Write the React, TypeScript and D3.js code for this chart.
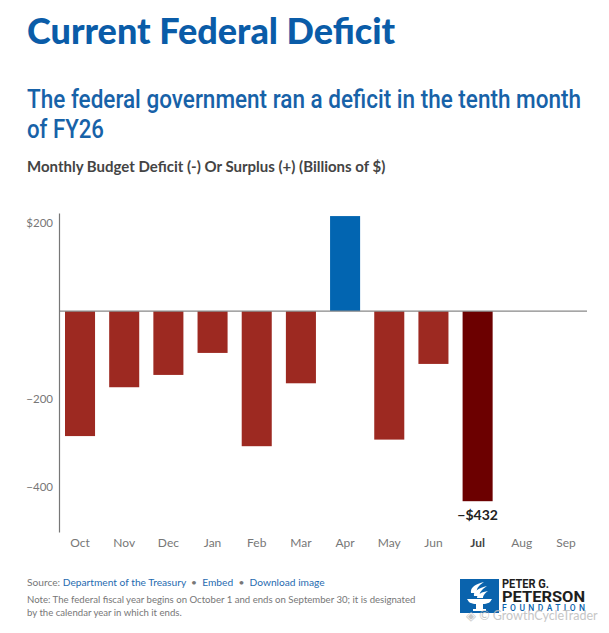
import { useEffect, useRef } from 'react';
import * as d3 from 'd3';

const months = ['Oct', 'Nov', 'Dec', 'Jan', 'Feb', 'Mar', 'Apr', 'May', 'Jun', 'Jul', 'Aug', 'Sep'];
const deficits: (number | null)[] = [-284, -173, -145, -95, -307, -164, 216, -292, -120, -432, null, null];
const yTicks = [200, -200, -400];
const latestMonth = 'Jul';

const WIDTH = 609;
const HEIGHT = 633;

export default function App() {
  const svgRef = useRef<SVGSVGElement>(null);

  useEffect(() => {
    if (!svgRef.current) return;
    const svg = d3.select(svgRef.current);
    svg.selectAll('*').remove();

    const font = 'Lato, "Open Sans", sans-serif';

    // Headings
    svg.append('text')
      .attr('x', 27).attr('y', 44)
      .style('font-family', font).style('font-weight', '900').style('font-size', '36px')
      .style('fill', '#0a5ca8')
      .text('Current Federal Deficit');

    const sub = svg.append('g')
      .style('font-family', 'Roboto, sans-serif').style('font-weight', '500').style('font-size', '26px')
      .style('fill', '#1762a8');
    sub.append('text').attr('x', 27).attr('y', 108)
      .attr('textLength', 554).attr('lengthAdjust', 'spacingAndGlyphs')
      .text('The federal government ran a deficit in the tenth month');
    sub.append('text').attr('x', 27).attr('y', 138)
      .attr('textLength', 77).attr('lengthAdjust', 'spacingAndGlyphs')
      .text('of FY26');

    svg.append('text')
      .attr('x', 27).attr('y', 172)
      .style('font-family', font).style('font-weight', '700').style('font-size', '15px')
      .style('fill', '#444')
      .text('Monthly Budget Deficit (-) Or Surplus (+) (Billions of $)');

    // Scales
    const x = d3.scaleBand<string>()
      .domain(months)
      .range([59, 587])
      .paddingInner(0.32)
      .paddingOuter(0.136);

    const y = d3.scaleLinear()
      .domain([-502, 223])
      .range([532, 213]);

    // Bars
    const data = months.map((m, i) => ({ month: m, value: deficits[i] }))
      .filter(d => d.value !== null) as { month: string; value: number }[];

    svg.append('g')
      .selectAll('rect')
      .data(data)
      .enter().append('rect')
      .attr('x', d => x(d.month) || 0)
      .attr('width', x.bandwidth())
      .attr('y', d => y(Math.max(0, d.value)))
      .attr('height', d => Math.abs(y(d.value) - y(0)))
      .attr('fill', d => d.month === latestMonth ? '#6c0000' : d.value > 0 ? '#0265b1' : '#9d2921');

    // Zero line
    svg.append('line')
      .attr('x1', 59).attr('x2', 587)
      .attr('y1', y(0)).attr('y2', y(0))
      .attr('stroke', '#888').attr('stroke-width', 1.2);

    // Y axis
    const yAxis = svg.append('g')
      .attr('transform', 'translate(59,0)')
      .call(d3.axisLeft(y).tickValues(yTicks).tickSize(0).tickPadding(6)
        .tickFormat(d => (+d > 0 ? `$${d}` : `\u2212${Math.abs(+d)}`)));
    yAxis.select('.domain').attr('stroke', '#777').attr('stroke-width', 1.2);
    yAxis.selectAll('text')
      .style('font-family', font).style('font-size', '11.5px').style('fill', '#777');

    // X axis
    const xAxis = svg.append('g')
      .attr('transform', 'translate(0,532)')
      .call(d3.axisBottom(x).tickSize(0).tickPadding(6));
    xAxis.select('.domain').remove();
    xAxis.selectAll('text')
      .style('font-family', font).style('font-size', '12px')
      .style('fill', d => (d === latestMonth ? '#444' : '#777'))
      .style('font-weight', d => (d === latestMonth ? '700' : '400'));

    // Value label for latest month
    const latest = data.find(d => d.month === latestMonth)!;
    svg.append('text')
      .attr('x', (x(latest.month) || 0) + x.bandwidth() / 2)
      .attr('y', y(latest.value) + 19)
      .attr('text-anchor', 'middle')
      .style('font-family', font).style('font-weight', '700').style('font-size', '14px')
      .style('fill', '#222')
      .text(`\u2212$${Math.abs(latest.value)}`);

    // Footer
    const src = svg.append('text')
      .attr('x', 27).attr('y', 586)
      .style('font-family', font).style('font-size', '10.2px');
    src.append('tspan').style('fill', '#777').text('Source: ');
    src.append('tspan').style('fill', '#1f6bb0').text('Department of the Treasury');
    src.append('tspan').style('fill', '#777').text('\u00A0\u00A0\u2022\u00A0\u00A0');
    src.append('tspan').style('fill', '#1f6bb0').text('Embed');
    src.append('tspan').style('fill', '#777').text('\u00A0\u00A0\u2022\u00A0\u00A0');
    src.append('tspan').style('fill', '#1f6bb0').text('Download image');

    const note = svg.append('g')
      .style('font-family', font).style('font-size', '9.6px').style('fill', '#777');
    note.append('text').attr('x', 27).attr('y', 603)
      .text('Note: The federal fiscal year begins on October 1 and ends on September 30; it is designated');
    note.append('text').attr('x', 27).attr('y', 616)
      .text('by the calendar year in which it ends.');

    // Logo
    const logo = svg.append('g');
    logo.append('rect').attr('x', 460).attr('y', 579).attr('width', 39).attr('height', 34).attr('fill', '#0a63ad');
    const torch = logo.append('g').attr('fill', '#fff');
    torch.append('path').attr('d', 'M471,593 C470,587 476,584 484,582 C478,586 476,589 477,593 Z');
    torch.append('path').attr('d', 'M474,596 C473,591 479,588 487,586 C481,590 479,593 480,596 Z');
    torch.append('path').attr('d', 'M477,598 C477,594 482,592 488,591 C484,594 483,596 483,598 Z');
    torch.append('path').attr('d', 'M467,599 L492,599 L490,602 C487,605 472,605 469,602 Z');
    torch.append('rect').attr('x', 476).attr('y', 604).attr('width', 7).attr('height', 6);
    torch.append('rect').attr('x', 473).attr('y', 609).attr('width', 13).attr('height', 2);

    const brand = 'Roboto, "Liberation Sans", sans-serif';
    logo.append('text').attr('x', 502).attr('y', 588)
      .style('font-family', brand).style('font-weight', '700').style('font-size', '12.5px').style('fill', '#1e1e1e')
      .attr('textLength', 47).attr('lengthAdjust', 'spacingAndGlyphs')
      .text('PETER G.');
    logo.append('text').attr('x', 502).attr('y', 602)
      .style('font-family', brand).style('font-weight', '700').style('font-size', '15.5px').style('fill', '#1e1e1e')
      .attr('textLength', 83).attr('lengthAdjust', 'spacingAndGlyphs')
      .text('PETERSON');
    logo.append('text').attr('x', 502).attr('y', 611)
      .style('font-family', brand).style('font-weight', '500').style('font-size', '8.5px').style('fill', '#0a63ad')
      .attr('textLength', 83).attr('lengthAdjust', 'spacing')
      .text('FOUNDATION');

    // Watermark
    svg.append('text').attr('x', 466).attr('y', 620)
      .style('font-family', font).style('font-size', '12.5px').style('fill', '#bdbdbd').style('opacity', 0.85)
      .text('\u25C8 \u00A9 GrowthCycleTrader');
  }, []);

  return (
    <div style={{ position: 'absolute', left: 0, top: 0, width: WIDTH, height: HEIGHT, background: '#fff' }}>
      <svg ref={svgRef} width={WIDTH} height={HEIGHT} />
    </div>
  );
}
